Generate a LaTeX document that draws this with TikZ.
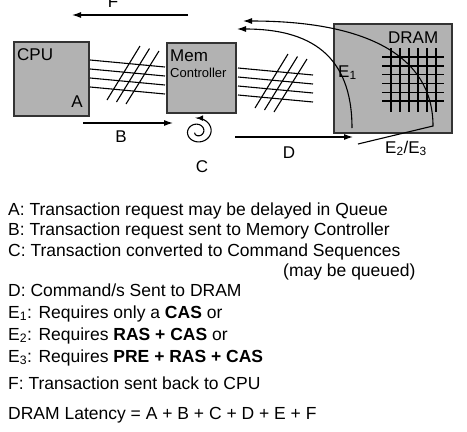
\documentclass[tikz,border=0pt]{standalone}
\usepackage{fontspec}
\setmainfont{Liberation Sans}
\usetikzlibrary{calc,arrows.meta}

\begin{document}
\begin{tikzpicture}[x=1pt,y=-1pt,>={Latex[length=9pt,width=6pt]},
    box/.style={draw=black!80,fill=gray!60,line width=1.2pt,inner sep=0pt},
    lbl/.style={inner sep=0pt,font=\fontsize{17}{20}\selectfont},
    wire/.style={line width=1.1pt},
    txt/.style={anchor=base west,inner sep=0pt,font=\fontsize{17.5}{21}\selectfont}]
  \useasboundingbox (0,0) rectangle (467,432);

  % the three units
  \node[box,minimum width=75,minimum height=74] (cpu) at (51.5,79) {};
  \node[box,minimum width=69,minimum height=70] (mc) at (201.5,78) {};
  \node[box,minimum width=118,minimum height=109] (dram) at (393,78.5) {};
  \node[lbl,anchor=base west] (cpulbl) at (17,60) {CPU};
  \node[lbl,anchor=base] (a) at (77,107) {A};
  \node[lbl,anchor=base west] (mem) at (170,61) {Mem};
  \node[lbl,anchor=base west,font=\fontsize{13}{15}\selectfont] (ctrl) at (170,77) {Controller};
  \node[lbl,anchor=base west] (dramlbl) at (388,43) {DRAM};

  % buses
  \foreach \bx/\by in {90/60,238/68} {
    \foreach \i in {0,...,3}
      \draw[wire] (\bx,\by+9*\i) -- ++(75,7);
    \foreach \i in {0,1,2}
      \draw[wire] (\bx+17+9.5*\i,\by+40+2*\i) -- (\bx+50+9.5*\i,\by-14+2.5*\i);
  }

  % memory array
  \foreach \i in {0,...,5} {
    \draw[line width=1.4pt] (391+9*\i,48) -- (391+9*\i,112);
    \draw[line width=1.4pt] (382,57+8.8*\i) -- (444,57+8.8*\i);
  }

  % F, B, D
  \coordinate (fs) at (188,15);
  \coordinate (ft) at (72,15);
  \draw[wire,->] (fs) -- (ft);
  \node[lbl,anchor=base] (f) at (113,7) {F};
  \coordinate (bs) at (83,123);
  \coordinate (bt) at (173,123);
  \draw[wire,->] (bs) -- (bt);
  \node[lbl,anchor=base] (b) at (121,142) {B};
  \coordinate (ds) at (235,137);
  \coordinate (dt) at (353,137);
  \draw[wire,->] (ds) -- (dt);
  \node[lbl,anchor=base] (d) at (289,158) {D};

  % C: the queue spiral
  \draw[wire,-{Latex[length=7pt,width=6pt]}] plot[domain=200:815,samples=120,smooth]
    ({197.5+(3+12.5*(\x-200)/615)*cos(\x)},{131.5-(3+10.5*(\x-200)/615)*sin(\x)});
  \node[lbl,anchor=base] (c) at (202,172) {C};

  % E: the way back
  \coordinate (e1s) at (352,128);
  \coordinate (e1t) at (237,29);
  \draw[wire,->] (e1s) .. controls (352,55) and (310,29) .. (e1t);
  \node[lbl,anchor=base west] (e1) at (338,77) {E\textsubscript{1}};
  \coordinate (e2s) at (358,144);
  \coordinate (e2m) at (433,126);
  \coordinate (e2t) at (243,21);
  \draw[wire,->] (e2s) -- (e2m) .. controls (433,55) and (365,21) .. (e2t);
  \node[lbl,anchor=base west] (e23) at (385,153) {E\textsubscript{2}/E\textsubscript{3}};

  % legend
  \node[txt] (la) at (8,215) {A: Transaction request may be delayed in Queue};
  \node[txt] (lb) at (8,235) {B: Transaction request sent to Memory Controller};
  \node[txt] (lc) at (8,256) {C: Transaction converted to Command Sequences};
  \node[txt] (lq) at (283,276) {(may be queued)};
  \node[txt] (ld) at (8,296) {D: Command/s Sent to DRAM};
  \node[txt] (le1) at (8,318) {E\textsubscript{1}: Requires only a \textbf{CAS} or};
  \node[txt] (le2) at (8,340) {E\textsubscript{2}: Requires \textbf{RAS + CAS} or};
  \node[txt] (le3) at (8,362) {E\textsubscript{3}: Requires \textbf{PRE + RAS + CAS}};
  \node[txt] (lf) at (8,389) {F: Transaction sent back to CPU};
  \node[txt] (llat) at (8,419) {DRAM Latency = A + B + C + D + E + F};
\end{tikzpicture}
\end{document}
